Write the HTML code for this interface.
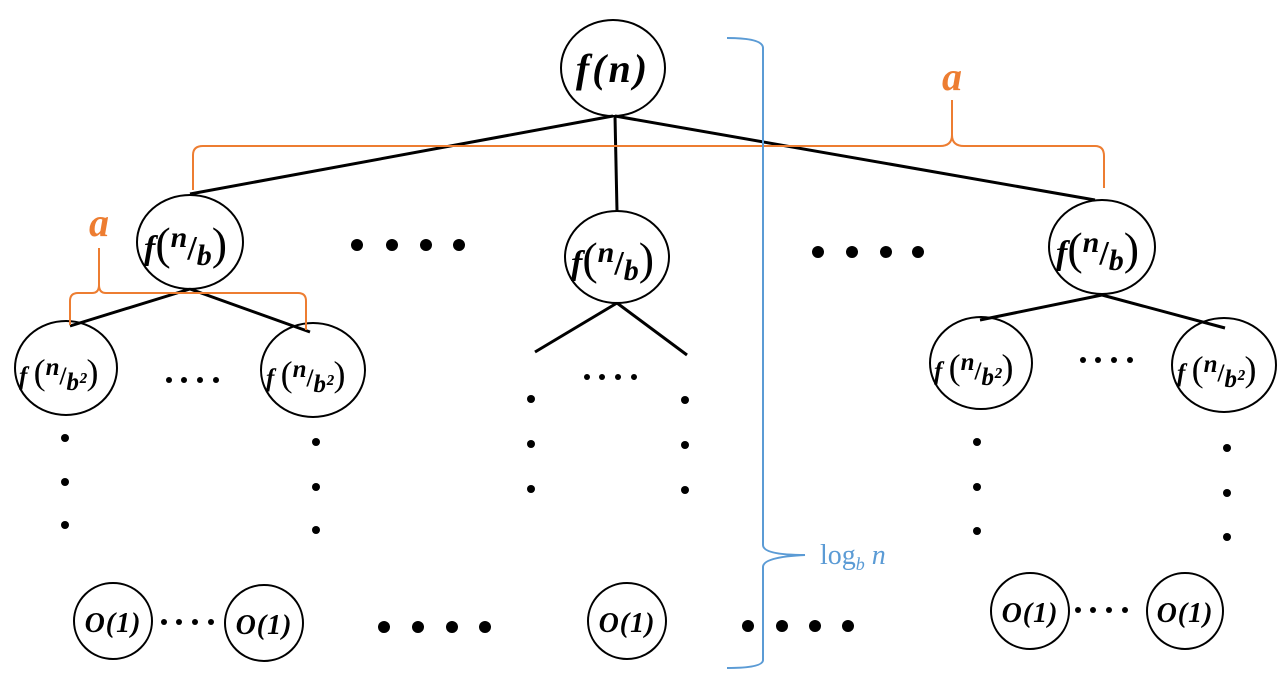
<!DOCTYPE html><html><head><style>body{margin:0;background:#fff}svg{display:block}text{font-family:"Liberation Serif",serif;font-weight:bold;font-style:italic}</style></head><body>
<svg width="1286" height="695" viewBox="0 0 1286 695" xmlns="http://www.w3.org/2000/svg">
<g fill="none" stroke="#000" stroke-width="2">
<ellipse cx="613" cy="68" rx="52" ry="48"/>
<ellipse cx="190" cy="242" rx="53" ry="47"/>
<ellipse cx="617" cy="257" rx="52" ry="46"/>
<ellipse cx="1102" cy="247" rx="53" ry="47"/>
<ellipse cx="66" cy="368" rx="51" ry="47"/>
<ellipse cx="313" cy="370" rx="52" ry="47"/>
<ellipse cx="981" cy="363" rx="51" ry="46"/>
<ellipse cx="1224" cy="365" rx="52" ry="47"/>
<ellipse cx="113" cy="621" rx="39" ry="38"/>
<ellipse cx="264" cy="623" rx="39" ry="38"/>
<ellipse cx="627" cy="621" rx="39" ry="38"/>
<ellipse cx="1030" cy="611" rx="39" ry="38"/>
<ellipse cx="1185" cy="611" rx="38" ry="38"/>
</g>
<g stroke="#000" stroke-width="3">
<line x1="613" y1="116" x2="190" y2="194"/>
<line x1="615" y1="116" x2="617" y2="211"/>
<line x1="615" y1="116" x2="1095" y2="200"/>
<line x1="190" y1="289" x2="70" y2="326"/>
<line x1="190" y1="289" x2="310" y2="332"/>
<line x1="617" y1="303" x2="535" y2="352"/>
<line x1="617" y1="303" x2="687" y2="355"/>
<line x1="1102" y1="295" x2="980" y2="320"/>
<line x1="1102" y1="295" x2="1225" y2="328"/>
</g>
<g fill="none" stroke="#ED7D31" stroke-width="2">
<path d="M193 190 V155 Q193 146 203 146 H940 Q952 146 952 135 V100 V135 Q952 146 964 146 H1095 Q1104 146 1104 156 V188"/>
<path d="M70 325 V301 Q70 293 78 293 H92 Q99 293 99 285 V248 V285 Q99 293 106 293 H298 Q306 293 306 301 V330"/>
</g>
<path d="M727 38 Q763 38 763 48 V545 Q763 555 805 555 Q763 557 763 567 V660 Q763 668 727 668" fill="none" stroke="#5B9BD5" stroke-width="2"/>
<text x="952" y="90" fill="#ED7D31" font-size="40" text-anchor="middle">a</text>
<text x="99" y="236" fill="#ED7D31" font-size="40" text-anchor="middle">a</text>
<text x="820" y="564" fill="#5B9BD5" font-size="28" style="font-weight:normal;font-style:normal">log<tspan font-size="18" dy="6" style="font-style:italic">b</tspan><tspan dy="-6" style="font-style:italic"> n</tspan></text>
<g fill="#000">
<text x="613" y="82" font-size="40" text-anchor="middle" letter-spacing="3">f(n)</text>
<g font-size="34"><text x="144" y="259">f<tspan font-size="46" style="font-style:normal;font-weight:normal">(</tspan><tspan font-size="30" dy="-12">n</tspan><tspan font-size="34" dy="12" style="font-style:normal">/</tspan><tspan font-size="30" dy="6">b</tspan><tspan font-size="46" dy="-6" style="font-style:normal;font-weight:normal">)</tspan></text></g>
<g font-size="34"><text x="571" y="274">f<tspan font-size="46" style="font-style:normal;font-weight:normal">(</tspan><tspan font-size="30" dy="-12">n</tspan><tspan font-size="34" dy="12" style="font-style:normal">/</tspan><tspan font-size="30" dy="6">b</tspan><tspan font-size="46" dy="-6" style="font-style:normal;font-weight:normal">)</tspan></text></g>
<g font-size="34"><text x="1056" y="264">f<tspan font-size="46" style="font-style:normal;font-weight:normal">(</tspan><tspan font-size="30" dy="-12">n</tspan><tspan font-size="34" dy="12" style="font-style:normal">/</tspan><tspan font-size="30" dy="6">b</tspan><tspan font-size="46" dy="-6" style="font-style:normal;font-weight:normal">)</tspan></text></g>
<g font-size="25">
<text x="19" y="384">f <tspan font-size="36" style="font-style:normal;font-weight:normal">(</tspan><tspan dy="-9">n</tspan><tspan dy="9" style="font-style:normal">/</tspan><tspan dy="6">b²</tspan><tspan font-size="36" dy="-6" style="font-style:normal;font-weight:normal">)</tspan></text>
<text x="266" y="386">f <tspan font-size="36" style="font-style:normal;font-weight:normal">(</tspan><tspan dy="-9">n</tspan><tspan dy="9" style="font-style:normal">/</tspan><tspan dy="6">b²</tspan><tspan font-size="36" dy="-6" style="font-style:normal;font-weight:normal">)</tspan></text>
<text x="934" y="379">f <tspan font-size="36" style="font-style:normal;font-weight:normal">(</tspan><tspan dy="-9">n</tspan><tspan dy="9" style="font-style:normal">/</tspan><tspan dy="6">b²</tspan><tspan font-size="36" dy="-6" style="font-style:normal;font-weight:normal">)</tspan></text>
<text x="1177" y="381">f <tspan font-size="36" style="font-style:normal;font-weight:normal">(</tspan><tspan dy="-9">n</tspan><tspan dy="9" style="font-style:normal">/</tspan><tspan dy="6">b²</tspan><tspan font-size="36" dy="-6" style="font-style:normal;font-weight:normal">)</tspan></text>
</g>
<g font-size="28" text-anchor="middle" letter-spacing="1">
<text x="113" y="632">O(1)</text><text x="264" y="634">O(1)</text><text x="627" y="632">O(1)</text><text x="1030" y="622">O(1)</text><text x="1185" y="622">O(1)</text>
</g>
<g>
<circle cx="357" cy="245" r="6"/><circle cx="392" cy="245" r="6"/><circle cx="426" cy="245" r="6"/><circle cx="459" cy="245" r="6"/>
<circle cx="818" cy="252" r="6"/><circle cx="852" cy="252" r="6"/><circle cx="886" cy="252" r="6"/><circle cx="918" cy="252" r="6"/>
<circle cx="384" cy="627" r="6"/><circle cx="418" cy="627" r="6"/><circle cx="452" cy="627" r="6"/><circle cx="485" cy="627" r="6"/>
<circle cx="748" cy="626" r="6"/><circle cx="782" cy="626" r="6"/><circle cx="815" cy="626" r="6"/><circle cx="848" cy="626" r="6"/>
</g>
<g>
<circle cx="169" cy="380" r="3"/><circle cx="184" cy="380" r="3"/><circle cx="200" cy="380" r="3"/><circle cx="216" cy="380" r="3"/>
<circle cx="587" cy="377" r="3"/><circle cx="602" cy="377" r="3"/><circle cx="618" cy="377" r="3"/><circle cx="634" cy="377" r="3"/>
<circle cx="1083" cy="360" r="3"/><circle cx="1098" cy="360" r="3"/><circle cx="1114" cy="360" r="3"/><circle cx="1130" cy="360" r="3"/>
<circle cx="164" cy="622" r="3"/><circle cx="179" cy="622" r="3"/><circle cx="195" cy="622" r="3"/><circle cx="211" cy="622" r="3"/>
<circle cx="1078" cy="610" r="3"/><circle cx="1093" cy="610" r="3"/><circle cx="1109" cy="610" r="3"/><circle cx="1125" cy="610" r="3"/>
</g>
<g>
<circle cx="65" cy="438" r="4"/><circle cx="65" cy="482" r="4"/><circle cx="65" cy="525" r="4"/>
<circle cx="316" cy="442" r="4"/><circle cx="316" cy="487" r="4"/><circle cx="316" cy="530" r="4"/>
<circle cx="531" cy="399" r="4"/><circle cx="531" cy="444" r="4"/><circle cx="531" cy="489" r="4"/>
<circle cx="685" cy="400" r="4"/><circle cx="685" cy="445" r="4"/><circle cx="685" cy="490" r="4"/>
<circle cx="977" cy="442" r="4"/><circle cx="977" cy="487" r="4"/><circle cx="977" cy="531" r="4"/>
<circle cx="1227" cy="448" r="4"/><circle cx="1227" cy="493" r="4"/><circle cx="1227" cy="537" r="4"/>
</g>
</g>
</svg></body></html>
